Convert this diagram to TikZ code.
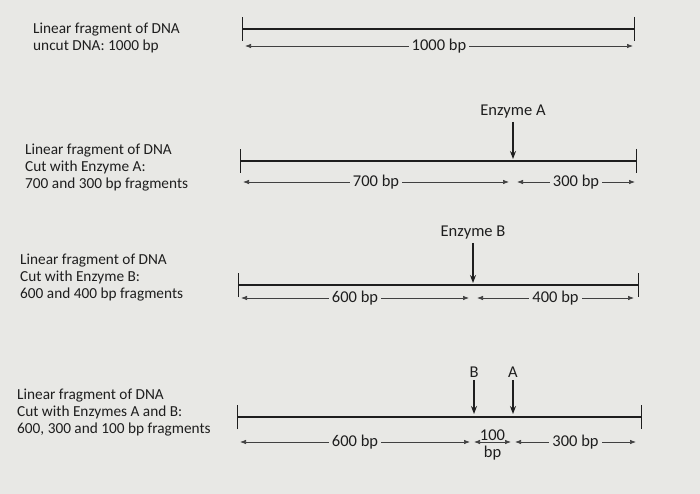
\documentclass[tikz,border=0pt]{standalone}
\usepackage{fontspec}
\setmainfont{Carlito}
\usetikzlibrary{positioning}
\usetikzlibrary{arrows.meta}
\definecolor{paper}{RGB}{232,232,229}
\definecolor{ink}{RGB}{30,30,30}

\begin{document}
\begin{tikzpicture}[x=1pt,y=-1pt,every node/.style={text=ink,inner sep=1pt}]

	\tikzstyle{dna}=[line width=1.9pt,draw=ink,{Bar[width=24pt,line width=1.1pt]}-{Bar[width=24pt,line width=1.1pt]}]
	\tikzstyle{dim}=[line width=0.7pt,draw=ink!85,{Latex[length=6pt,width=4.5pt]}-{Latex[length=6pt,width=4.5pt]}]
	\tikzstyle{cut}=[line width=1.1pt,draw=ink,-{Stealth[length=8pt,width=6pt]},shorten <=2pt]
	\tikzstyle{info}=[align=left,anchor=west,font=\fontsize{15.3}{17}\selectfont]
	\tikzstyle{enz}=[font=\fontsize{16.5}{19}\selectfont]
	\tikzstyle{size}=[enz,fill=paper,inner sep=3pt]

	\fill[paper] (0,0) rectangle (700,494);

	% Uncut:
	\node[info] (txt1) at (32,38) {Linear fragment of DNA\\uncut DNA: 1000 bp};
	\coordinate (l1) at (242,29);
	\coordinate (r1) at (635,29);
	\draw[dna] (l1) -- (r1);
	\coordinate (a1) at (245,46);
	\coordinate (b1) at (633,46);
	\draw[dim] (a1) -- node[size] (s1) {1000 bp} (b1);

	% Enzyme A:
	\node[info] (txt2) at (24,168) {Linear fragment of DNA\\Cut with Enzyme A:\\700 and 300 bp fragments};
	\coordinate (l2) at (240,161);
	\coordinate (r2) at (637,161);
	\draw[dna] (l2) -- (r2);
	\coordinate (cA) at (513,159);
	\node[enz] (enzA) at (513,112) {Enzyme A};
	\draw[cut] (enzA) -- (cA);
	\coordinate (a2) at (243,182);
	\coordinate (m2) at (509,182);
	\coordinate (n2) at (517,182);
	\coordinate (b2) at (635,182);
	\draw[dim] (a2) -- node[size] (s2) {700 bp} (m2);
	\draw[dim] (n2) -- node[size] (s3) {300 bp} (b2);

	% Enzyme B:
	\node[info] (txt3) at (19,278) {Linear fragment of DNA\\Cut with Enzyme B:\\600 and 400 bp fragments};
	\coordinate (l3) at (238,285);
	\coordinate (r3) at (639,285);
	\draw[dna] (l3) -- (r3);
	\coordinate (cB) at (473,283);
	\node[enz] (enzB) at (473,233) {Enzyme B};
	\draw[cut] (enzB) -- (cB);
	\coordinate (a3) at (241,298);
	\coordinate (m3) at (469,298);
	\coordinate (n3) at (477,298);
	\coordinate (b3) at (634,298);
	\draw[dim] (a3) -- node[size] (s4) {600 bp} (m3);
	\draw[dim] (n3) -- node[size] (s5) {400 bp} (b3);

	% Enzymes A and B:
	\node[info] (txt4) at (16,413) {Linear fragment of DNA\\Cut with Enzymes A and B:\\600, 300 and 100 bp fragments};
	\coordinate (l4) at (237,417);
	\coordinate (r4) at (642,417);
	\draw[dna] (l4) -- (r4);
	\coordinate (cB2) at (474,414);
	\coordinate (cA2) at (513,414);
	\node[enz] (enzB2) at (474,372) {B};
	\node[enz] (enzA2) at (513,372) {A};
	\draw[cut] (enzB2) -- (cB2);
	\draw[cut] (enzA2) -- (cA2);
	\coordinate (a4) at (240,442);
	\coordinate (m4) at (470,442);
	\coordinate (n4) at (474,442);
	\coordinate (o4) at (511,442);
	\coordinate (p4) at (515,442);
	\coordinate (b4) at (636,442);
	\draw[dim] (a4) -- node[size] (s6) {600 bp} (m4);
	\draw[dim] (n4) -- node[enz,above=0.5pt] (s7) {100} node[enz,below=3pt] (s8) {bp} (o4);
	\draw[dim] (p4) -- node[size] (s9) {300 bp} (b4);

\end{tikzpicture}
\end{document}
